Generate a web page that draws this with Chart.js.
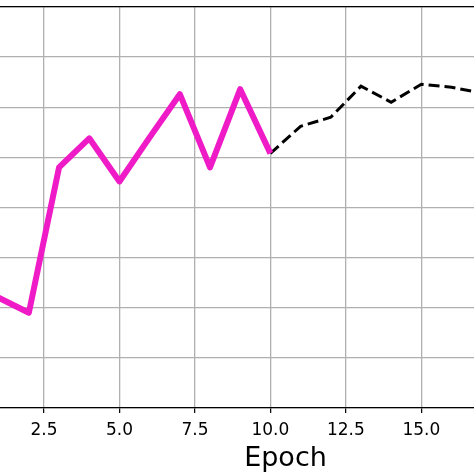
<!DOCTYPE html>
<html>
<head>
<meta charset="utf-8">
<script src="https://cdn.jsdelivr.net/npm/chart.js@4.4.1/dist/chart.umd.min.js"></script>
<style>
  html, body { margin:0; padding:0; overflow:hidden; background:#fff; width:474px; height:474px; }
  #wrap { position:absolute; left:-30px; top:0; width:631px; height:474px; }
</style>
</head>
<body>
<div id="wrap"><canvas id="myChart" width="631" height="474"></canvas></div>
<script>
const trainEpochs = [1, 2, 3, 4, 5, 6, 7, 8, 9, 10]
const trainValues = [2.20, 1.90, 4.80, 5.38, 4.52, 5.40, 6.26, 4.80, 6.36, 5.08]
const laterEpochs = [10, 11, 12, 13, 14, 15, 16, 17]
const laterValues = [5.08, 5.62, 5.80, 6.42, 6.10, 6.46, 6.40, 6.28]
const xTitle = "Epoch"

const toPoints = (xs, ys) => xs.map((x, i) => ({x: x, y: ys[i]}))
const gridGray = "#b0b0b0"
const font = "'DejaVu Sans', sans-serif"

new Chart("myChart", {
    type: "line",
    data: {
        datasets: [{
            data: toPoints(trainEpochs, trainValues),
            borderColor: "#ef1bc6",
            borderWidth: 6,
            borderJoinStyle: "round",
            pointRadius: 0,
            tension: 0,
            fill: false,
        },
        {
            data: toPoints(laterEpochs, laterValues),
            borderColor: "#000000",
            borderWidth: 3,
            borderDash: [11, 5],
            pointRadius: 0,
            tension: 0,
            fill: false,
        }]
    },
    options: {
        responsive: false,
        animation: false,
        devicePixelRatio: 1,
        layout: {padding: {top: 7, left: 0, right: 0, bottom: 0}},
        plugins: {legend: {display: false}, tooltip: {enabled: false}},
        scales: {
            x: {
                type: "linear",
                position: "bottom",
                min: 0.05,
                max: 20.95,
                afterFit: (scale) => { scale.height = 66 },
                ticks: {
                    stepSize: 2.5,
                    includeBounds: false,
                    maxRotation: 0,
                    autoSkip: false,
                    padding: 7,
                    color: "#000",
                    font: {family: font, size: 17},
                    callback: (v) => v.toFixed(1),
                },
                grid: {color: gridGray, lineWidth: 1.3, tickLength: 5, tickColor: "#000", tickWidth: 1.2},
                border: {display: true, color: "#000", width: 1.3},
                title: {
                    display: true,
                    text: xTitle,
                    color: "#000",
                    padding: {top: 0, bottom: 0},
                    font: {family: font, size: 27, lineHeight: 1.1},
                },
            },
            xTop: {
                type: "linear",
                position: "top",
                min: 0.05,
                max: 20.95,
                ticks: {display: false},
                grid: {display: false, drawTicks: false},
                border: {display: true, color: "#000", width: 1.3},
            },
            y: {
                min: 0,
                max: 8,
                ticks: {display: false, stepSize: 1},
                grid: {color: gridGray, lineWidth: 1.3, drawTicks: false},
                border: {display: false},
            }
        }
    }
});
</script>
</body>
</html>
